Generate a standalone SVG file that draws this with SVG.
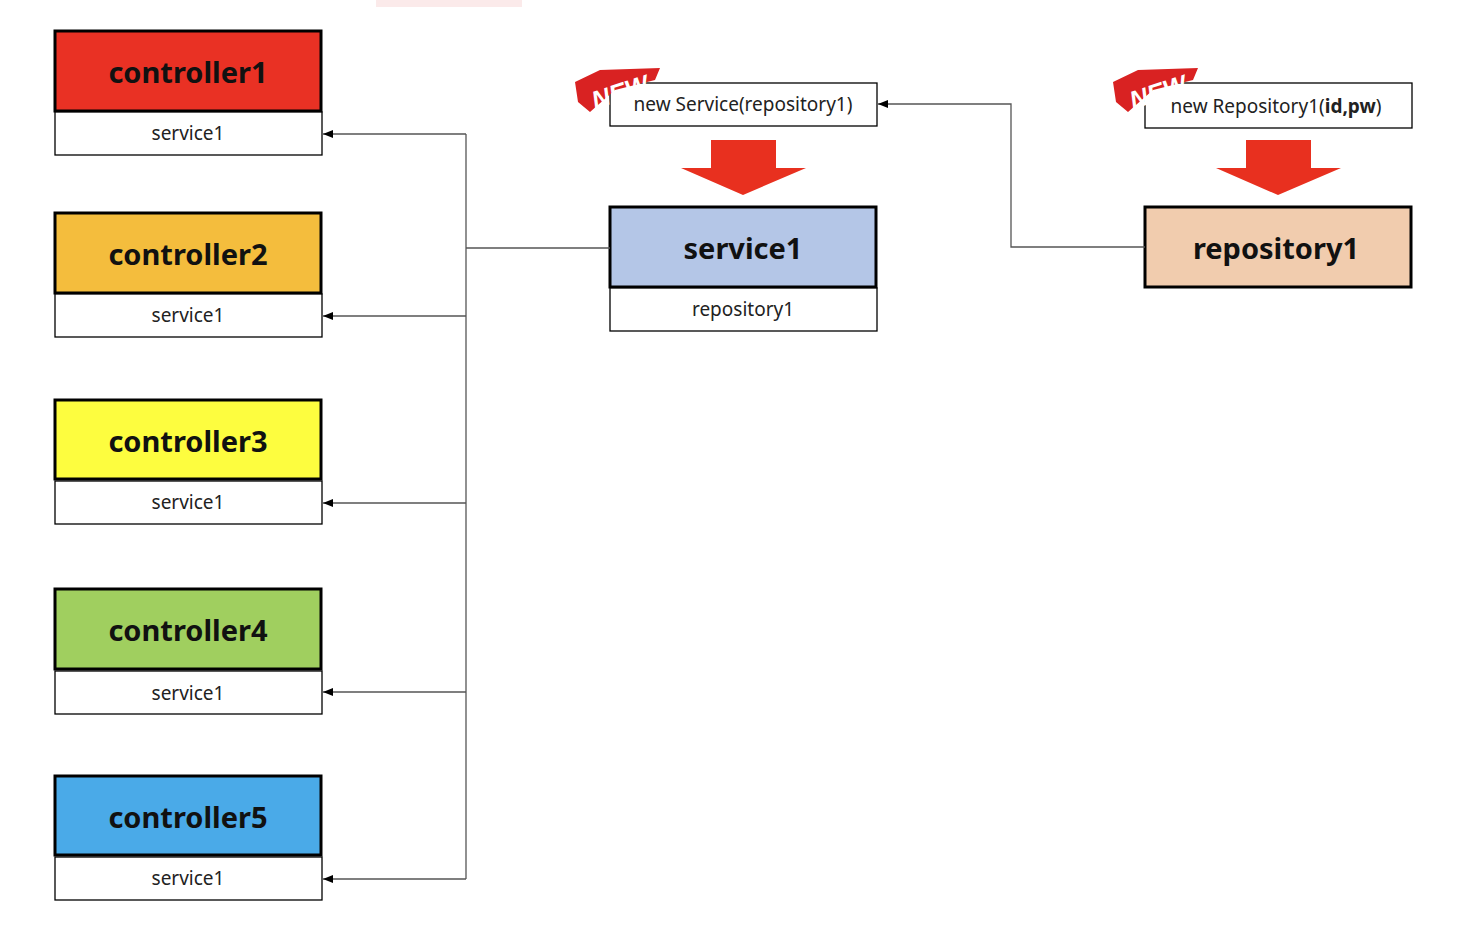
<svg xmlns="http://www.w3.org/2000/svg" width="1478" height="938" viewBox="0 0 1478 938">
<style>
.hd{stroke:#000;stroke-width:3}
.sub{fill:#fff;stroke:#000;stroke-width:1.3}
.ht{font-family:"Noto Sans","Open Sans",sans-serif;font-weight:bold;font-size:29px;text-anchor:middle;fill:#111}
.st{font-family:"Noto Sans","Open Sans",sans-serif;font-size:19px;text-anchor:middle;fill:#222}
.ln{fill:none;stroke:#555;stroke-width:1.3}
.arr{fill:#e8301f}
.nw{font-family:"Liberation Sans",sans-serif;font-style:italic;font-weight:bold;font-size:25px;fill:#fff}
</style>
<defs><marker id="a" markerWidth="10" markerHeight="8" refX="10" refY="4" orient="auto" markerUnits="userSpaceOnUse"><path d="M0,0L10,4L0,8z" fill="#000"/></marker></defs>
<rect x="376" y="0" width="146" height="7" fill="#fbeaea"/>
<g id="controller1"><rect class="hd" x="55" y="31" width="266" height="80" fill="#e93124"/><text class="ht" x="188" y="83">controller1</text><rect class="sub" x="55" y="112" width="267" height="43"/><text class="st" x="188" y="140">service1</text></g>
<g id="controller2"><rect class="hd" x="55" y="213" width="266" height="80" fill="#f4bd3d"/><text class="ht" x="188" y="265">controller2</text><rect class="sub" x="55" y="294" width="267" height="43"/><text class="st" x="188" y="322">service1</text></g>
<g id="controller3"><rect class="hd" x="55" y="400" width="266" height="79" fill="#fdfd3f"/><text class="ht" x="188" y="452">controller3</text><rect class="sub" x="55" y="481" width="267" height="43"/><text class="st" x="188" y="509">service1</text></g>
<g id="controller4"><rect class="hd" x="55" y="589" width="266" height="80" fill="#a0cf5f"/><text class="ht" x="188" y="641">controller4</text><rect class="sub" x="55" y="671" width="267" height="43"/><text class="st" x="188" y="700">service1</text></g>
<g id="controller5"><rect class="hd" x="55" y="776" width="266" height="79" fill="#4aaae8"/><text class="ht" x="188" y="828">controller5</text><rect class="sub" x="55" y="857" width="267" height="43"/><text class="st" x="188" y="885">service1</text></g>
<g id="service1"><rect class="hd" x="610" y="207" width="266" height="80" fill="#b4c6e7"/><text class="ht" x="743" y="259">service1</text><rect class="sub" x="610" y="288" width="267" height="43"/><text class="st" x="743" y="316">repository1</text></g>
<g id="repository1"><rect class="hd" x="1145" y="207" width="266" height="80" fill="#f1ccae"/><text class="ht" x="1276" y="259">repository1</text></g>
<g id="newService"><rect class="sub" x="610" y="83" width="267" height="43"/><text class="st" x="743" y="111">new  Service(repository1)</text>
<path d="M575,82L600,70L660,68L655,80L615,90L590,112L578,102z" fill="#d92222"/><text class="nw" x="590" y="103" transform="rotate(-18 612 90)">NEW</text>
<path class="arr" d="M711,140H776V168H806L743,195L681,168H711z"/></g>
<g id="newRepository"><rect class="sub" x="1145" y="83" width="267" height="45"/><text class="st" x="1276" y="113">new  Repository1(<tspan font-weight="bold">id,pw</tspan>)</text>
<path d="M1113,82L1138,70L1198,68L1193,80L1153,90L1128,112L1116,102z" fill="#d92222"/><text class="nw" x="1128" y="103" transform="rotate(-18 1150 90)">NEW</text>
<path class="arr" d="M1246,140H1311V168H1341L1278,195L1216,168H1246z"/></g>
<g id="connectors">
<path class="ln" d="M610,248H466"/>
<path class="ln" d="M466,134V879"/>
<path class="ln" d="M466,134H323" marker-end="url(#a)"/>
<path class="ln" d="M466,316H323" marker-end="url(#a)"/>
<path class="ln" d="M466,503H323" marker-end="url(#a)"/>
<path class="ln" d="M466,692H323" marker-end="url(#a)"/>
<path class="ln" d="M466,879H323" marker-end="url(#a)"/>
<path class="ln" d="M1145,247H1011V104H878" stroke="#999" marker-end="url(#a)"/>
</g>
</svg>
